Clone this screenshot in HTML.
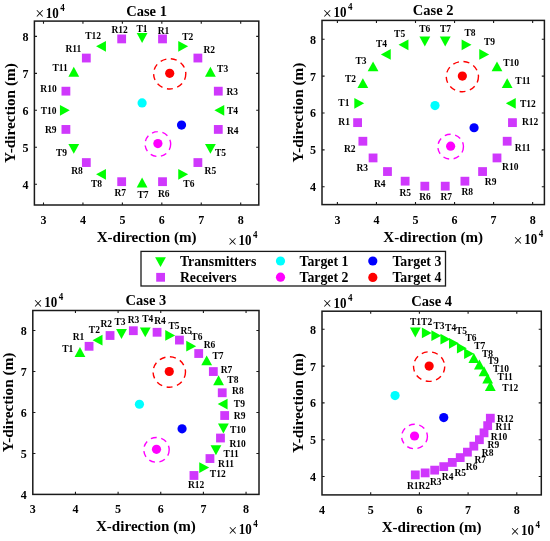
<!DOCTYPE html>
<html><head><meta charset="utf-8"><title>Cases</title>
<style>
html,body{margin:0;padding:0;background:#fff;}
body{width:550px;height:541px;overflow:hidden;}
svg{display:block;}
text{font-family:'Liberation Serif', 'Times New Roman', serif;fill:#000;}
</style></head><body>
<svg width="550" height="541" viewBox="0 0 550 541">
<rect width="550" height="541" fill="#fff"/>
<rect x="34.40" y="21.10" width="224.40" height="183.90" fill="none" stroke="#1a1a1a" stroke-width="1.5"/>
<text x="43.50" y="224.00" font-size="12.00" font-weight="bold" text-anchor="middle">3</text>
<text x="82.94" y="224.00" font-size="12.00" font-weight="bold" text-anchor="middle">4</text>
<text x="122.38" y="224.00" font-size="12.00" font-weight="bold" text-anchor="middle">5</text>
<text x="161.82" y="224.00" font-size="12.00" font-weight="bold" text-anchor="middle">6</text>
<text x="201.26" y="224.00" font-size="12.00" font-weight="bold" text-anchor="middle">7</text>
<text x="240.70" y="224.00" font-size="12.00" font-weight="bold" text-anchor="middle">8</text>
<text x="28.40" y="188.60" font-size="12.00" font-weight="bold" text-anchor="end">4</text>
<text x="28.40" y="151.65" font-size="12.00" font-weight="bold" text-anchor="end">5</text>
<text x="28.40" y="114.70" font-size="12.00" font-weight="bold" text-anchor="end">6</text>
<text x="28.40" y="77.75" font-size="12.00" font-weight="bold" text-anchor="end">7</text>
<text x="28.40" y="40.80" font-size="12.00" font-weight="bold" text-anchor="end">8</text>
<path d="M43.50 205.00V202.40M43.50 21.10V23.70M82.94 205.00V202.40M82.94 21.10V23.70M122.38 205.00V202.40M122.38 21.10V23.70M161.82 205.00V202.40M161.82 21.10V23.70M201.26 205.00V202.40M201.26 21.10V23.70M240.70 205.00V202.40M240.70 21.10V23.70M34.40 184.20H37.00M258.80 184.20H256.20M34.40 147.25H37.00M258.80 147.25H256.20M34.40 110.30H37.00M258.80 110.30H256.20M34.40 73.35H37.00M258.80 73.35H256.20M34.40 36.40H37.00M258.80 36.40H256.20" stroke="#1a1a1a" stroke-width="1.1" fill="none"/>
<text x="146.60" y="15.50" font-size="14.50" font-weight="bold" text-anchor="middle">Case 1</text>
<text x="146.60" y="242.00" font-size="15.10" font-weight="bold" text-anchor="middle">X-direction (m)</text>
<text transform="translate(14.90,113.05) rotate(-90)" font-size="15.3" font-weight="bold" text-anchor="middle">Y-direction (m)</text>
<text x="35.20" y="19.30" font-size="16">&#215;</text>
<text transform="translate(45.80,17.50) scale(0.93,1)" font-size="14" font-weight="bold">10</text>
<text transform="translate(60.30,10.50) scale(0.9,1)" font-size="10" font-weight="bold">4</text>
<text x="228.00" y="246.60" font-size="16">&#215;</text>
<text transform="translate(238.60,244.80) scale(0.93,1)" font-size="14" font-weight="bold">10</text>
<text transform="translate(253.10,237.80) scale(0.9,1)" font-size="10" font-weight="bold">4</text>
<circle cx="142.10" cy="102.91" r="4.60" fill="#00ffff"/>
<circle cx="157.88" cy="143.56" r="4.60" fill="#ff00ff"/>
<circle cx="181.54" cy="125.08" r="4.60" fill="#0000ff"/>
<circle cx="169.71" cy="73.35" r="4.60" fill="#ff0000"/>
<ellipse cx="157.88" cy="144.06" rx="12.80" ry="12.40" fill="none" stroke="#ff00ff" stroke-width="1.4" stroke-dasharray="6 4.6"/>
<ellipse cx="169.71" cy="73.85" rx="16.10" ry="15.10" fill="none" stroke="#ff0000" stroke-width="1.4" stroke-dasharray="6 4.6"/>
<rect x="158.12" y="34.52" width="8.80" height="8.80" fill="#cf38fc"/>
<rect x="193.48" y="53.64" width="8.80" height="8.80" fill="#cf38fc"/>
<rect x="213.89" y="86.77" width="8.80" height="8.80" fill="#cf38fc"/>
<rect x="213.89" y="125.03" width="8.80" height="8.80" fill="#cf38fc"/>
<rect x="193.48" y="158.16" width="8.80" height="8.80" fill="#cf38fc"/>
<rect x="158.12" y="177.28" width="8.80" height="8.80" fill="#cf38fc"/>
<rect x="117.28" y="177.28" width="8.80" height="8.80" fill="#cf38fc"/>
<rect x="81.92" y="158.16" width="8.80" height="8.80" fill="#cf38fc"/>
<rect x="61.51" y="125.03" width="8.80" height="8.80" fill="#cf38fc"/>
<rect x="61.51" y="86.77" width="8.80" height="8.80" fill="#cf38fc"/>
<rect x="81.92" y="53.64" width="8.80" height="8.80" fill="#cf38fc"/>
<rect x="117.28" y="34.52" width="8.80" height="8.80" fill="#cf38fc"/>
<polygon points="136.70,33.10 147.50,33.10 142.10,43.00" fill="#00ff00"/>
<polygon points="178.24,40.90 178.24,51.70 188.14,46.30" fill="#00ff00"/>
<polygon points="205.01,76.65 215.81,76.65 210.41,66.75" fill="#00ff00"/>
<polygon points="224.28,104.90 224.28,115.70 214.38,110.30" fill="#00ff00"/>
<polygon points="205.01,143.95 215.81,143.95 210.41,153.85" fill="#00ff00"/>
<polygon points="178.24,168.90 178.24,179.70 188.14,174.30" fill="#00ff00"/>
<polygon points="136.70,187.50 147.50,187.50 142.10,177.60" fill="#00ff00"/>
<polygon points="105.96,168.90 105.96,179.70 96.06,174.30" fill="#00ff00"/>
<polygon points="68.39,143.95 79.19,143.95 73.79,153.85" fill="#00ff00"/>
<polygon points="59.92,104.90 59.92,115.70 69.82,110.30" fill="#00ff00"/>
<polygon points="68.39,76.65 79.19,76.65 73.79,66.75" fill="#00ff00"/>
<polygon points="105.96,40.90 105.96,51.70 96.06,46.30" fill="#00ff00"/>
<text x="136.50" y="31.50" font-size="9.50" font-weight="bold" text-anchor="start">T1</text>
<text x="182.20" y="40.40" font-size="9.50" font-weight="bold" text-anchor="start">T2</text>
<text x="217.10" y="72.20" font-size="9.50" font-weight="bold" text-anchor="start">T3</text>
<text x="227.00" y="114.20" font-size="9.50" font-weight="bold" text-anchor="start">T4</text>
<text x="215.00" y="156.00" font-size="9.50" font-weight="bold" text-anchor="start">T5</text>
<text x="183.30" y="186.80" font-size="9.50" font-weight="bold" text-anchor="start">T6</text>
<text x="137.50" y="198.30" font-size="9.50" font-weight="bold" text-anchor="start">T7</text>
<text x="90.90" y="186.80" font-size="9.50" font-weight="bold" text-anchor="start">T8</text>
<text x="56.00" y="156.00" font-size="9.50" font-weight="bold" text-anchor="start">T9</text>
<text x="40.70" y="113.60" font-size="9.50" font-weight="bold" text-anchor="start">T10</text>
<text x="52.40" y="70.50" font-size="9.50" font-weight="bold" text-anchor="start">T11</text>
<text x="85.20" y="38.70" font-size="9.50" font-weight="bold" text-anchor="start">T12</text>
<text x="157.70" y="33.50" font-size="9.50" font-weight="bold" text-anchor="start">R1</text>
<text x="203.50" y="53.40" font-size="9.50" font-weight="bold" text-anchor="start">R2</text>
<text x="226.50" y="94.80" font-size="9.50" font-weight="bold" text-anchor="start">R3</text>
<text x="227.00" y="133.50" font-size="9.50" font-weight="bold" text-anchor="start">R4</text>
<text x="204.60" y="174.20" font-size="9.50" font-weight="bold" text-anchor="start">R5</text>
<text x="158.00" y="196.60" font-size="9.50" font-weight="bold" text-anchor="start">R6</text>
<text x="114.50" y="196.20" font-size="9.50" font-weight="bold" text-anchor="start">R7</text>
<text x="71.20" y="174.20" font-size="9.50" font-weight="bold" text-anchor="start">R8</text>
<text x="44.90" y="133.00" font-size="9.50" font-weight="bold" text-anchor="start">R9</text>
<text x="40.30" y="92.00" font-size="9.50" font-weight="bold" text-anchor="start">R10</text>
<text x="65.40" y="51.70" font-size="9.50" font-weight="bold" text-anchor="start">R11</text>
<text x="111.40" y="32.90" font-size="9.50" font-weight="bold" text-anchor="start">R12</text>
<rect x="322.00" y="20.40" width="222.40" height="184.20" fill="none" stroke="#1a1a1a" stroke-width="1.5"/>
<text x="337.40" y="223.60" font-size="12.00" font-weight="bold" text-anchor="middle">3</text>
<text x="376.45" y="223.60" font-size="12.00" font-weight="bold" text-anchor="middle">4</text>
<text x="415.50" y="223.60" font-size="12.00" font-weight="bold" text-anchor="middle">5</text>
<text x="454.55" y="223.60" font-size="12.00" font-weight="bold" text-anchor="middle">6</text>
<text x="493.60" y="223.60" font-size="12.00" font-weight="bold" text-anchor="middle">7</text>
<text x="532.65" y="223.60" font-size="12.00" font-weight="bold" text-anchor="middle">8</text>
<text x="316.00" y="191.20" font-size="12.00" font-weight="bold" text-anchor="end">4</text>
<text x="316.00" y="154.30" font-size="12.00" font-weight="bold" text-anchor="end">5</text>
<text x="316.00" y="117.40" font-size="12.00" font-weight="bold" text-anchor="end">6</text>
<text x="316.00" y="80.50" font-size="12.00" font-weight="bold" text-anchor="end">7</text>
<text x="316.00" y="43.60" font-size="12.00" font-weight="bold" text-anchor="end">8</text>
<path d="M337.40 204.60V202.00M337.40 20.40V23.00M376.45 204.60V202.00M376.45 20.40V23.00M415.50 204.60V202.00M415.50 20.40V23.00M454.55 204.60V202.00M454.55 20.40V23.00M493.60 204.60V202.00M493.60 20.40V23.00M532.65 204.60V202.00M532.65 20.40V23.00M322.00 186.80H324.60M544.40 186.80H541.80M322.00 149.90H324.60M544.40 149.90H541.80M322.00 113.00H324.60M544.40 113.00H541.80M322.00 76.10H324.60M544.40 76.10H541.80M322.00 39.20H324.60M544.40 39.20H541.80" stroke="#1a1a1a" stroke-width="1.1" fill="none"/>
<text x="433.20" y="14.80" font-size="14.50" font-weight="bold" text-anchor="middle">Case 2</text>
<text x="433.20" y="241.60" font-size="15.10" font-weight="bold" text-anchor="middle">X-direction (m)</text>
<text transform="translate(302.50,112.50) rotate(-90)" font-size="15.3" font-weight="bold" text-anchor="middle">Y-direction (m)</text>
<text x="322.80" y="18.60" font-size="16">&#215;</text>
<text transform="translate(333.40,16.80) scale(0.93,1)" font-size="14" font-weight="bold">10</text>
<text transform="translate(347.90,9.80) scale(0.9,1)" font-size="10" font-weight="bold">4</text>
<text x="513.60" y="246.20" font-size="16">&#215;</text>
<text transform="translate(524.20,244.40) scale(0.93,1)" font-size="14" font-weight="bold">10</text>
<text transform="translate(538.70,237.40) scale(0.9,1)" font-size="10" font-weight="bold">4</text>
<circle cx="435.02" cy="105.62" r="4.60" fill="#00ffff"/>
<circle cx="450.64" cy="146.21" r="4.60" fill="#ff00ff"/>
<circle cx="474.07" cy="127.76" r="4.60" fill="#0000ff"/>
<circle cx="462.36" cy="76.10" r="4.60" fill="#ff0000"/>
<ellipse cx="450.64" cy="146.71" rx="12.80" ry="12.40" fill="none" stroke="#ff00ff" stroke-width="1.4" stroke-dasharray="6 4.6"/>
<ellipse cx="462.36" cy="76.60" rx="16.10" ry="15.10" fill="none" stroke="#ff0000" stroke-width="1.4" stroke-dasharray="6 4.6"/>
<rect x="353.19" y="118.23" width="8.80" height="8.80" fill="#cf38fc"/>
<rect x="358.47" y="136.84" width="8.80" height="8.80" fill="#cf38fc"/>
<rect x="368.66" y="153.53" width="8.80" height="8.80" fill="#cf38fc"/>
<rect x="383.08" y="167.15" width="8.80" height="8.80" fill="#cf38fc"/>
<rect x="400.74" y="176.78" width="8.80" height="8.80" fill="#cf38fc"/>
<rect x="420.43" y="181.77" width="8.80" height="8.80" fill="#cf38fc"/>
<rect x="440.82" y="181.77" width="8.80" height="8.80" fill="#cf38fc"/>
<rect x="460.51" y="176.78" width="8.80" height="8.80" fill="#cf38fc"/>
<rect x="478.17" y="167.15" width="8.80" height="8.80" fill="#cf38fc"/>
<rect x="492.59" y="153.53" width="8.80" height="8.80" fill="#cf38fc"/>
<rect x="502.78" y="136.84" width="8.80" height="8.80" fill="#cf38fc"/>
<rect x="508.06" y="118.23" width="8.80" height="8.80" fill="#cf38fc"/>
<polygon points="354.29,97.97 354.29,108.77 364.19,103.37" fill="#00ff00"/>
<polygon points="357.47,88.06 368.27,88.06 362.87,78.16" fill="#00ff00"/>
<polygon points="367.66,71.37 378.46,71.37 373.06,61.47" fill="#00ff00"/>
<polygon points="390.78,49.05 390.78,59.85 380.88,54.45" fill="#00ff00"/>
<polygon points="408.44,39.42 408.44,50.22 398.54,44.82" fill="#00ff00"/>
<polygon points="419.43,36.53 430.23,36.53 424.83,46.43" fill="#00ff00"/>
<polygon points="439.82,36.53 450.62,36.53 445.22,46.43" fill="#00ff00"/>
<polygon points="461.61,39.42 461.61,50.22 471.51,44.82" fill="#00ff00"/>
<polygon points="479.27,49.05 479.27,59.85 489.17,54.45" fill="#00ff00"/>
<polygon points="491.59,71.37 502.39,71.37 496.99,61.47" fill="#00ff00"/>
<polygon points="501.78,88.06 512.58,88.06 507.18,78.16" fill="#00ff00"/>
<polygon points="515.76,97.97 515.76,108.77 505.86,103.37" fill="#00ff00"/>
<text x="338.30" y="105.70" font-size="9.50" font-weight="bold" text-anchor="start">T1</text>
<text x="345.00" y="81.70" font-size="9.50" font-weight="bold" text-anchor="start">T2</text>
<text x="355.50" y="64.30" font-size="9.50" font-weight="bold" text-anchor="start">T3</text>
<text x="375.90" y="46.80" font-size="9.50" font-weight="bold" text-anchor="start">T4</text>
<text x="394.10" y="37.10" font-size="9.50" font-weight="bold" text-anchor="start">T5</text>
<text x="419.20" y="31.50" font-size="9.50" font-weight="bold" text-anchor="start">T6</text>
<text x="440.00" y="31.50" font-size="9.50" font-weight="bold" text-anchor="start">T7</text>
<text x="464.50" y="36.30" font-size="9.50" font-weight="bold" text-anchor="start">T8</text>
<text x="483.90" y="44.70" font-size="9.50" font-weight="bold" text-anchor="start">T9</text>
<text x="503.20" y="65.60" font-size="9.50" font-weight="bold" text-anchor="start">T10</text>
<text x="515.30" y="83.80" font-size="9.50" font-weight="bold" text-anchor="start">T11</text>
<text x="519.90" y="106.80" font-size="9.50" font-weight="bold" text-anchor="start">T12</text>
<text x="338.30" y="124.70" font-size="9.50" font-weight="bold" text-anchor="start">R1</text>
<text x="344.00" y="151.90" font-size="9.50" font-weight="bold" text-anchor="start">R2</text>
<text x="356.50" y="170.70" font-size="9.50" font-weight="bold" text-anchor="start">R3</text>
<text x="373.90" y="187.40" font-size="9.50" font-weight="bold" text-anchor="start">R4</text>
<text x="399.40" y="196.20" font-size="9.50" font-weight="bold" text-anchor="start">R5</text>
<text x="419.20" y="200.00" font-size="9.50" font-weight="bold" text-anchor="start">R6</text>
<text x="440.50" y="200.00" font-size="9.50" font-weight="bold" text-anchor="start">R7</text>
<text x="461.40" y="195.10" font-size="9.50" font-weight="bold" text-anchor="start">R8</text>
<text x="484.80" y="184.70" font-size="9.50" font-weight="bold" text-anchor="start">R9</text>
<text x="502.10" y="170.00" font-size="9.50" font-weight="bold" text-anchor="start">R10</text>
<text x="514.70" y="151.20" font-size="9.50" font-weight="bold" text-anchor="start">R11</text>
<text x="522.00" y="125.10" font-size="9.50" font-weight="bold" text-anchor="start">R12</text>
<rect x="32.80" y="310.50" width="226.20" height="183.90" fill="none" stroke="#1a1a1a" stroke-width="1.5"/>
<text x="32.80" y="513.40" font-size="12.00" font-weight="bold" text-anchor="middle">3</text>
<text x="75.45" y="513.40" font-size="12.00" font-weight="bold" text-anchor="middle">4</text>
<text x="118.10" y="513.40" font-size="12.00" font-weight="bold" text-anchor="middle">5</text>
<text x="160.75" y="513.40" font-size="12.00" font-weight="bold" text-anchor="middle">6</text>
<text x="203.40" y="513.40" font-size="12.00" font-weight="bold" text-anchor="middle">7</text>
<text x="246.05" y="513.40" font-size="12.00" font-weight="bold" text-anchor="middle">8</text>
<text x="26.80" y="498.82" font-size="12.00" font-weight="bold" text-anchor="end">4</text>
<text x="26.80" y="457.84" font-size="12.00" font-weight="bold" text-anchor="end">5</text>
<text x="26.80" y="416.86" font-size="12.00" font-weight="bold" text-anchor="end">6</text>
<text x="26.80" y="375.88" font-size="12.00" font-weight="bold" text-anchor="end">7</text>
<text x="26.80" y="334.90" font-size="12.00" font-weight="bold" text-anchor="end">8</text>
<path d="M75.45 494.40V491.80M75.45 310.50V313.10M118.10 494.40V491.80M118.10 310.50V313.10M160.75 494.40V491.80M160.75 310.50V313.10M203.40 494.40V491.80M203.40 310.50V313.10M246.05 494.40V491.80M246.05 310.50V313.10M32.80 453.44H35.40M259.00 453.44H256.40M32.80 412.46H35.40M259.00 412.46H256.40M32.80 371.48H35.40M259.00 371.48H256.40M32.80 330.50H35.40M259.00 330.50H256.40" stroke="#1a1a1a" stroke-width="1.1" fill="none"/>
<text x="145.90" y="304.90" font-size="14.50" font-weight="bold" text-anchor="middle">Case 3</text>
<text x="145.90" y="531.40" font-size="15.10" font-weight="bold" text-anchor="middle">X-direction (m)</text>
<text transform="translate(13.30,402.45) rotate(-90)" font-size="15.3" font-weight="bold" text-anchor="middle">Y-direction (m)</text>
<text x="33.60" y="308.70" font-size="16">&#215;</text>
<text transform="translate(44.20,306.90) scale(0.93,1)" font-size="14" font-weight="bold">10</text>
<text transform="translate(58.70,299.90) scale(0.9,1)" font-size="10" font-weight="bold">4</text>
<text x="228.20" y="536.00" font-size="16">&#215;</text>
<text transform="translate(238.80,534.20) scale(0.93,1)" font-size="14" font-weight="bold">10</text>
<text transform="translate(253.30,527.20) scale(0.9,1)" font-size="10" font-weight="bold">4</text>
<circle cx="139.43" cy="404.26" r="4.60" fill="#00ffff"/>
<circle cx="156.49" cy="449.34" r="4.60" fill="#ff00ff"/>
<circle cx="182.07" cy="428.85" r="4.60" fill="#0000ff"/>
<circle cx="169.28" cy="371.48" r="4.60" fill="#ff0000"/>
<ellipse cx="156.49" cy="449.84" rx="12.70" ry="12.40" fill="none" stroke="#ff00ff" stroke-width="1.4" stroke-dasharray="6 4.6"/>
<ellipse cx="169.28" cy="371.98" rx="16.20" ry="15.20" fill="none" stroke="#ff0000" stroke-width="1.4" stroke-dasharray="6 4.6"/>
<rect x="84.67" y="341.90" width="8.80" height="8.80" fill="#cf38fc"/>
<rect x="105.65" y="331.11" width="8.80" height="8.80" fill="#cf38fc"/>
<rect x="128.93" y="326.31" width="8.80" height="8.80" fill="#cf38fc"/>
<rect x="152.67" y="327.87" width="8.80" height="8.80" fill="#cf38fc"/>
<rect x="175.04" y="335.68" width="8.80" height="8.80" fill="#cf38fc"/>
<rect x="194.30" y="349.12" width="8.80" height="8.80" fill="#cf38fc"/>
<rect x="208.94" y="367.15" width="8.80" height="8.80" fill="#cf38fc"/>
<rect x="217.83" y="388.37" width="8.80" height="8.80" fill="#cf38fc"/>
<rect x="220.27" y="411.12" width="8.80" height="8.80" fill="#cf38fc"/>
<rect x="216.07" y="433.63" width="8.80" height="8.80" fill="#cf38fc"/>
<rect x="205.56" y="454.15" width="8.80" height="8.80" fill="#cf38fc"/>
<rect x="189.56" y="471.08" width="8.80" height="8.80" fill="#cf38fc"/>
<polygon points="74.56,357.00 85.36,357.00 79.96,347.10" fill="#00ff00"/>
<polygon points="102.47,334.80 102.47,345.60 92.57,340.20" fill="#00ff00"/>
<polygon points="116.12,329.03 126.92,329.03 121.52,338.93" fill="#00ff00"/>
<polygon points="139.86,327.39 150.66,327.39 145.26,337.29" fill="#00ff00"/>
<polygon points="165.24,330.02 165.24,340.82 175.14,335.42" fill="#00ff00"/>
<polygon points="186.26,340.75 186.26,351.55 196.16,346.15" fill="#00ff00"/>
<polygon points="201.28,365.35 212.08,365.35 206.68,355.45" fill="#00ff00"/>
<polygon points="213.16,385.16 223.96,385.16 218.56,375.26" fill="#00ff00"/>
<polygon points="227.58,398.66 227.58,409.46 217.68,404.06" fill="#00ff00"/>
<polygon points="217.99,423.62 228.79,423.62 223.39,433.52" fill="#00ff00"/>
<polygon points="210.56,445.35 221.36,445.35 215.96,455.25" fill="#00ff00"/>
<polygon points="199.28,462.16 199.28,472.96 209.18,467.56" fill="#00ff00"/>
<text x="62.20" y="351.80" font-size="9.50" font-weight="bold" text-anchor="start">T1</text>
<text x="88.80" y="332.60" font-size="9.50" font-weight="bold" text-anchor="start">T2</text>
<text x="114.50" y="324.60" font-size="9.50" font-weight="bold" text-anchor="start">T3</text>
<text x="142.20" y="322.00" font-size="9.50" font-weight="bold" text-anchor="start">T4</text>
<text x="168.40" y="328.50" font-size="9.50" font-weight="bold" text-anchor="start">T5</text>
<text x="191.30" y="340.10" font-size="9.50" font-weight="bold" text-anchor="start">T6</text>
<text x="212.40" y="359.10" font-size="9.50" font-weight="bold" text-anchor="start">T7</text>
<text x="227.30" y="383.10" font-size="9.50" font-weight="bold" text-anchor="start">T8</text>
<text x="233.80" y="407.00" font-size="9.50" font-weight="bold" text-anchor="start">T9</text>
<text x="229.90" y="432.50" font-size="9.50" font-weight="bold" text-anchor="start">T10</text>
<text x="223.40" y="457.20" font-size="9.50" font-weight="bold" text-anchor="start">T11</text>
<text x="209.80" y="476.80" font-size="9.50" font-weight="bold" text-anchor="start">T12</text>
<text x="72.70" y="339.70" font-size="9.50" font-weight="bold" text-anchor="start">R1</text>
<text x="100.50" y="327.10" font-size="9.50" font-weight="bold" text-anchor="start">R2</text>
<text x="127.70" y="323.00" font-size="9.50" font-weight="bold" text-anchor="start">R3</text>
<text x="154.20" y="324.20" font-size="9.50" font-weight="bold" text-anchor="start">R4</text>
<text x="180.40" y="333.60" font-size="9.50" font-weight="bold" text-anchor="start">R5</text>
<text x="203.70" y="347.50" font-size="9.50" font-weight="bold" text-anchor="start">R6</text>
<text x="220.70" y="373.30" font-size="9.50" font-weight="bold" text-anchor="start">R7</text>
<text x="232.10" y="394.00" font-size="9.50" font-weight="bold" text-anchor="start">R8</text>
<text x="233.80" y="418.60" font-size="9.50" font-weight="bold" text-anchor="start">R9</text>
<text x="229.50" y="446.90" font-size="9.50" font-weight="bold" text-anchor="start">R10</text>
<text x="218.10" y="467.40" font-size="9.50" font-weight="bold" text-anchor="start">R11</text>
<text x="188.00" y="487.70" font-size="9.50" font-weight="bold" text-anchor="start">R12</text>
<rect x="322.00" y="311.20" width="219.30" height="183.70" fill="none" stroke="#1a1a1a" stroke-width="1.5"/>
<text x="322.00" y="513.90" font-size="12.00" font-weight="bold" text-anchor="middle">4</text>
<text x="370.70" y="513.90" font-size="12.00" font-weight="bold" text-anchor="middle">5</text>
<text x="419.40" y="513.90" font-size="12.00" font-weight="bold" text-anchor="middle">6</text>
<text x="468.10" y="513.90" font-size="12.00" font-weight="bold" text-anchor="middle">7</text>
<text x="516.80" y="513.90" font-size="12.00" font-weight="bold" text-anchor="middle">8</text>
<text x="316.00" y="480.90" font-size="12.00" font-weight="bold" text-anchor="end">4</text>
<text x="316.00" y="444.10" font-size="12.00" font-weight="bold" text-anchor="end">5</text>
<text x="316.00" y="407.30" font-size="12.00" font-weight="bold" text-anchor="end">6</text>
<text x="316.00" y="370.50" font-size="12.00" font-weight="bold" text-anchor="end">7</text>
<text x="316.00" y="333.70" font-size="12.00" font-weight="bold" text-anchor="end">8</text>
<path d="M370.70 494.90V492.30M370.70 311.20V313.80M419.40 494.90V492.30M419.40 311.20V313.80M468.10 494.90V492.30M468.10 311.20V313.80M516.80 494.90V492.30M516.80 311.20V313.80M322.00 476.50H324.60M541.30 476.50H538.70M322.00 439.70H324.60M541.30 439.70H538.70M322.00 402.90H324.60M541.30 402.90H538.70M322.00 366.10H324.60M541.30 366.10H538.70M322.00 329.30H324.60M541.30 329.30H538.70" stroke="#1a1a1a" stroke-width="1.1" fill="none"/>
<text x="431.65" y="305.60" font-size="14.50" font-weight="bold" text-anchor="middle">Case 4</text>
<text x="431.65" y="531.90" font-size="15.10" font-weight="bold" text-anchor="middle">X-direction (m)</text>
<text transform="translate(302.50,403.05) rotate(-90)" font-size="15.3" font-weight="bold" text-anchor="middle">Y-direction (m)</text>
<text x="322.80" y="309.40" font-size="16">&#215;</text>
<text transform="translate(333.40,307.60) scale(0.93,1)" font-size="14" font-weight="bold">10</text>
<text transform="translate(347.90,300.60) scale(0.9,1)" font-size="10" font-weight="bold">4</text>
<text x="510.50" y="536.50" font-size="16">&#215;</text>
<text transform="translate(521.10,534.70) scale(0.93,1)" font-size="14" font-weight="bold">10</text>
<text transform="translate(535.60,527.70) scale(0.9,1)" font-size="10" font-weight="bold">4</text>
<circle cx="395.05" cy="395.54" r="4.60" fill="#00ffff"/>
<circle cx="414.53" cy="436.02" r="4.60" fill="#ff00ff"/>
<circle cx="443.75" cy="417.62" r="4.60" fill="#0000ff"/>
<circle cx="429.14" cy="366.10" r="4.60" fill="#ff0000"/>
<ellipse cx="414.53" cy="436.52" rx="12.90" ry="12.20" fill="none" stroke="#ff00ff" stroke-width="1.4" stroke-dasharray="6 4.6"/>
<ellipse cx="429.14" cy="366.60" rx="15.60" ry="14.80" fill="none" stroke="#ff0000" stroke-width="1.4" stroke-dasharray="6 4.6"/>
<rect x="410.90" y="470.49" width="8.80" height="8.80" fill="#cf38fc"/>
<rect x="420.75" y="468.50" width="8.80" height="8.80" fill="#cf38fc"/>
<rect x="430.27" y="465.74" width="8.80" height="8.80" fill="#cf38fc"/>
<rect x="439.35" y="462.24" width="8.80" height="8.80" fill="#cf38fc"/>
<rect x="447.90" y="458.04" width="8.80" height="8.80" fill="#cf38fc"/>
<rect x="455.82" y="453.20" width="8.80" height="8.80" fill="#cf38fc"/>
<rect x="463.03" y="447.75" width="8.80" height="8.80" fill="#cf38fc"/>
<rect x="469.45" y="441.76" width="8.80" height="8.80" fill="#cf38fc"/>
<rect x="475.00" y="435.30" width="8.80" height="8.80" fill="#cf38fc"/>
<rect x="479.63" y="428.44" width="8.80" height="8.80" fill="#cf38fc"/>
<rect x="483.28" y="421.24" width="8.80" height="8.80" fill="#cf38fc"/>
<rect x="485.92" y="413.80" width="8.80" height="8.80" fill="#cf38fc"/>
<polygon points="409.90,327.61 420.70,327.61 415.30,337.51" fill="#00ff00"/>
<polygon points="421.85,327.50 421.85,338.30 431.75,332.90" fill="#00ff00"/>
<polygon points="431.37,330.26 431.37,341.06 441.27,335.66" fill="#00ff00"/>
<polygon points="440.45,333.76 440.45,344.56 450.35,339.16" fill="#00ff00"/>
<polygon points="449.00,337.96 449.00,348.76 458.90,343.36" fill="#00ff00"/>
<polygon points="456.92,342.80 456.92,353.60 466.82,348.20" fill="#00ff00"/>
<polygon points="464.13,348.25 464.13,359.05 474.03,353.65" fill="#00ff00"/>
<polygon points="468.45,362.94 479.25,362.94 473.85,353.04" fill="#00ff00"/>
<polygon points="474.00,369.40 484.80,369.40 479.40,359.50" fill="#00ff00"/>
<polygon points="478.63,376.26 489.43,376.26 484.03,366.36" fill="#00ff00"/>
<polygon points="482.28,383.46 493.08,383.46 487.68,373.56" fill="#00ff00"/>
<polygon points="484.92,390.90 495.72,390.90 490.32,381.00" fill="#00ff00"/>
<text x="409.90" y="325.10" font-size="9.50" font-weight="bold" text-anchor="start">T1</text>
<text x="421.10" y="325.40" font-size="9.50" font-weight="bold" text-anchor="start">T2</text>
<text x="433.50" y="328.60" font-size="9.50" font-weight="bold" text-anchor="start">T3</text>
<text x="445.10" y="331.20" font-size="9.50" font-weight="bold" text-anchor="start">T4</text>
<text x="456.00" y="334.10" font-size="9.50" font-weight="bold" text-anchor="start">T5</text>
<text x="465.50" y="341.40" font-size="9.50" font-weight="bold" text-anchor="start">T6</text>
<text x="474.20" y="348.80" font-size="9.50" font-weight="bold" text-anchor="start">T7</text>
<text x="481.90" y="356.80" font-size="9.50" font-weight="bold" text-anchor="start">T8</text>
<text x="487.70" y="364.10" font-size="9.50" font-weight="bold" text-anchor="start">T9</text>
<text x="493.10" y="372.10" font-size="9.50" font-weight="bold" text-anchor="start">T10</text>
<text x="497.50" y="380.40" font-size="9.50" font-weight="bold" text-anchor="start">T11</text>
<text x="502.30" y="391.00" font-size="9.50" font-weight="bold" text-anchor="start">T12</text>
<text x="406.90" y="488.70" font-size="9.50" font-weight="bold" text-anchor="start">R1</text>
<text x="418.50" y="488.70" font-size="9.50" font-weight="bold" text-anchor="start">R2</text>
<text x="430.00" y="484.50" font-size="9.50" font-weight="bold" text-anchor="start">R3</text>
<text x="441.80" y="479.60" font-size="9.50" font-weight="bold" text-anchor="start">R4</text>
<text x="454.50" y="475.50" font-size="9.50" font-weight="bold" text-anchor="start">R5</text>
<text x="465.80" y="469.50" font-size="9.50" font-weight="bold" text-anchor="start">R6</text>
<text x="474.50" y="463.30" font-size="9.50" font-weight="bold" text-anchor="start">R7</text>
<text x="481.80" y="456.00" font-size="9.50" font-weight="bold" text-anchor="start">R8</text>
<text x="487.60" y="448.30" font-size="9.50" font-weight="bold" text-anchor="start">R9</text>
<text x="490.80" y="440.00" font-size="9.50" font-weight="bold" text-anchor="start">R10</text>
<text x="495.60" y="430.30" font-size="9.50" font-weight="bold" text-anchor="start">R11</text>
<text x="497.10" y="421.50" font-size="9.50" font-weight="bold" text-anchor="start">R12</text>
<rect x="141.0" y="251.4" width="304.5" height="34.6" fill="#fff" stroke="#1a1a1a" stroke-width="1.3"/>
<polygon points="155.10,257.20 165.90,257.20 160.50,267.10" fill="#00ff00"/>
<rect x="156.20" y="272.90" width="8.80" height="8.80" fill="#cf38fc"/>
<text x="179.90" y="265.80" font-size="13.80" font-weight="bold" text-anchor="start">Transmitters</text>
<text x="179.90" y="281.90" font-size="13.80" font-weight="bold" text-anchor="start">Receivers</text>
<circle cx="280.50" cy="261.00" r="4.60" fill="#00ffff"/>
<circle cx="280.50" cy="277.20" r="4.60" fill="#ff00ff"/>
<text x="299.50" y="265.60" font-size="13.80" font-weight="bold" text-anchor="start">Target 1</text>
<text x="299.50" y="281.70" font-size="13.80" font-weight="bold" text-anchor="start">Target 2</text>
<circle cx="372.80" cy="261.00" r="4.60" fill="#0000ff"/>
<circle cx="372.80" cy="277.40" r="4.60" fill="#ff0000"/>
<text x="392.40" y="265.50" font-size="13.80" font-weight="bold" text-anchor="start">Target 3</text>
<text x="392.40" y="281.50" font-size="13.80" font-weight="bold" text-anchor="start">Target 4</text>
</svg>
</body></html>
